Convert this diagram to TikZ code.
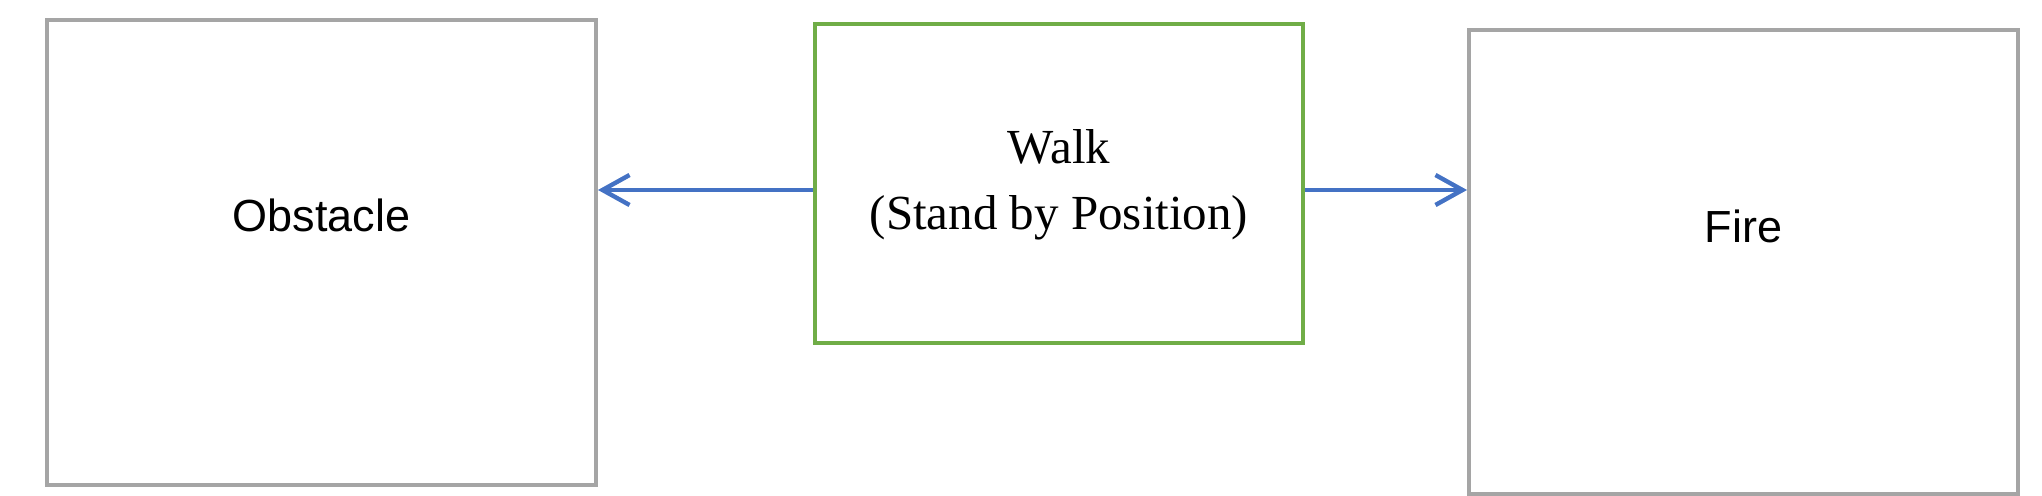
\documentclass[tikz,border=0pt]{standalone}
\usepackage{fontspec}
\usetikzlibrary{arrows.meta,calc}
\newfontfamily\sansf{Liberation Sans}
\newfontfamily\seriff{Liberation Serif}
\definecolor{boxgray}{HTML}{A5A5A5}
\definecolor{boxgreen}{HTML}{70AD47}
\definecolor{arrblue}{HTML}{4472C4}
\tikzset{
  graybox/.style={draw=boxgray, line width=2pt, rectangle, inner sep=0pt},
  greenbox/.style={draw=boxgreen, line width=2pt, rectangle, inner sep=0pt},
  sanslabel/.style={font=\sansf\fontsize{22.5}{27}\selectfont, inner sep=0pt, anchor=base},
  seriflabel/.style={font=\seriff\fontsize{24.5}{33}\selectfont, inner sep=0pt, anchor=base},
  arr/.style={draw=arrblue, line width=2.2pt, -{Straight Barb[length=13.5pt, width=15pt]}}
}
\begin{document}
\begin{tikzpicture}[x=0.5pt, y=-0.5pt]
\useasboundingbox (0,0) rectangle (2042,496);
\node[graybox, minimum width=274.5pt, minimum height=232.5pt] (obst) at (321.5,252.5) {};
\node[greenbox, minimum width=244pt, minimum height=159.5pt] (walk) at (1059,183.5) {};
\node[graybox, minimum width=274.5pt, minimum height=232pt] (fire) at (1743.5,262) {};
\node[sanslabel] (tobst) at (321.5,232) {Obstacle};
\node[sanslabel] (tfire) at (1743.5,243) {Fire};
\node[seriflabel] (twalk1) at (1059,163.5) {Walk};
\node[seriflabel] (twalk2) at (1059,229.5) {(Stand by Position)};
\coordinate (al) at ([yshift=-3.25pt]walk.west);
\coordinate (ar) at ([yshift=-3.25pt]walk.east);
\draw[arr] (al) -- (al -| obst.east);
\draw[arr] (ar) -- (ar -| fire.west);
\end{tikzpicture}
\end{document}
